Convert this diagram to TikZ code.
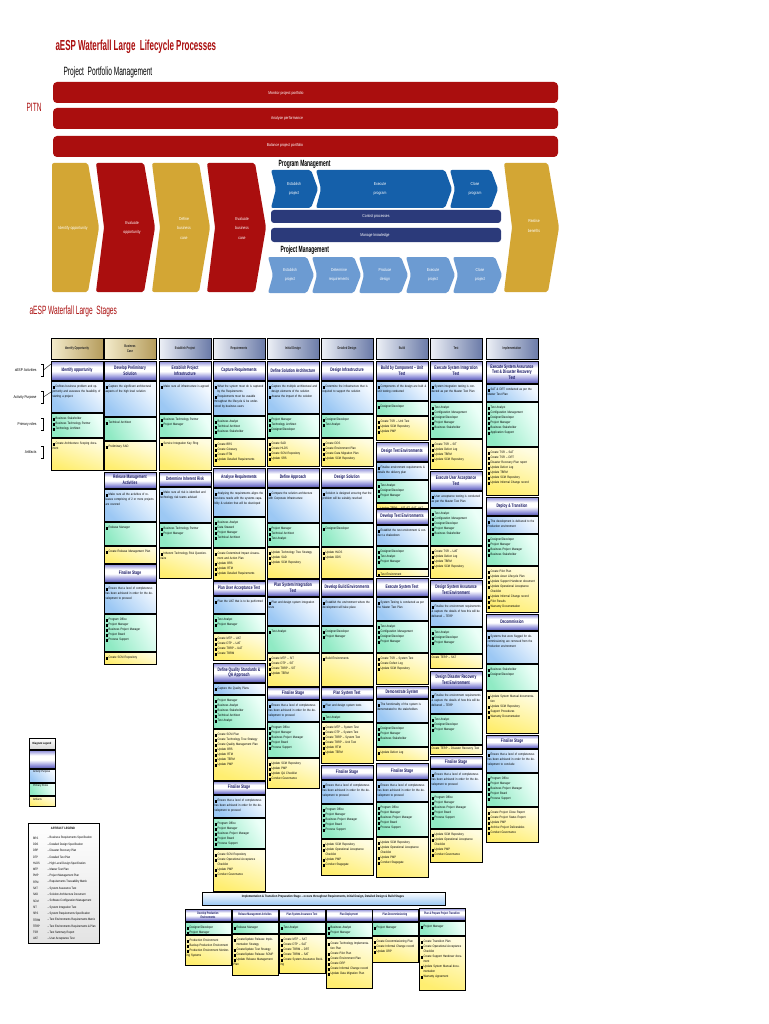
\documentclass[tikz,border=0pt]{standalone}
\usepackage{fontspec}
\setmainfont{Liberation Sans}
\newfontfamily\nar{Liberation Sans}[FakeStretch=0.8]
\newfontfamily\cnd{Liberation Sans}[FakeStretch=0.66]
\newfontfamily\cndx{Liberation Sans}[FakeStretch=0.55]
\definecolor{pred}{HTML}{AA0E0E}
\definecolor{pgold}{HTML}{D3A634}
\definecolor{pblue}{HTML}{1560AA}
\definecolor{pnavy}{HTML}{2B3A7A}
\definecolor{plblue}{HTML}{6C9BD2}
\definecolor{hnavy}{HTML}{12126E}
\definecolor{hlav}{HTML}{8C8CD8}
\definecolor{htext}{HTML}{101060}
\definecolor{pbl}{HTML}{9CC8F4}
\definecolor{pbr}{HTML}{F2F8FF}
\definecolor{rbl}{HTML}{90EAC4}
\definecolor{rbr}{HTML}{ECFFF8}
\definecolor{abl}{HTML}{FFEE70}
\definecolor{abr}{HTML}{FFFCE0}
\definecolor{sbl}{HTML}{EEF1F7}
\definecolor{sbr}{HTML}{6B7BA8}
\definecolor{sgl}{HTML}{F4ECCC}
\definecolor{sgr}{HTML}{B59C5C}
\pgfdeclareverticalshading{acthd}{100bp}{color(0bp)=(hnavy); color(14bp)=(hnavy); color(32bp)=(hlav); color(48bp)=(white); color(60bp)=(white); color(74bp)=(hlav); color(84bp)=(hnavy); color(100bp)=(hnavy)}
\newcommand\cbx{\raisebox{0.15pt}{\setlength\fboxsep{0pt}\setlength\fboxrule{0.3pt}\fbox{\rule{0pt}{1.5pt}\hspace{1.5pt}}}\hspace{1.1pt}}
\newcommand\itm[1]{\par\noindent\hangindent=3pt\hangafter=1\relax\cbx #1}
\newcommand\finp{\itm{Ensure that a level of completeness has been achieved in order for the development to proceed}}
\newcommand\finr{\itm{Program Office}\itm{Project Manager}\itm{Business Project Manager}\itm{Project Board}\itm{Process Support}}
\newcommand\hdfont{\cnd\bfseries\fontsize{5}{5.6}\selectfont}
\def\bw{52}
\def\bwt{49.5pt}
\newcommand\acth[5]{\path[acthdbox] (#2,#3) rectangle (#2+\bw,#4);
 \node[hdtxt] (#1h) at ({#2+\bw/2},{(#3+#4)/2}) {#5};}
\newcommand\actb[9]{%
 \path[pbox] (#2,#3) rectangle (#2+\bw,#4);
 \node[btxt] (#1p) at (#2,#3) {#7};
 \path[rbox] (#2,#4+1) rectangle (#2+\bw,#5);
 \node[btxt] (#1r) at (#2,#4+1) {#8};
 \path[abox] (#2,#5+1) rectangle (#2+\bw,#6);
 \node[btxt] (#1a) at (#2,#5+1) {#9};}
\newcommand\actrb[7]{%
 \path[rbox] (#2,#3) rectangle (#2+\bw,#4);
 \node[btxt] (#1r) at (#2,#3) {#6};
 \path[abox] (#2,#4+1) rectangle (#2+\bw,#5);
 \node[btxt] (#1a) at (#2,#4+1) {#7};}
\newcommand\chev[7]{\path[#1] (#2,#4) -- (#3-#7,#4) -- (#3,{(#4+#5)/2}) -- (#3-#7,#5) -- (#2,#5) -- (#2+#6,{(#4+#5)/2}) -- cycle;}
\begin{document}
\begin{tikzpicture}[x=1pt,y=-1pt,
 acthdbox/.style={shade,shading=acthd,draw=black,line width=0.7},
 pbox/.style={top color=pbr,bottom color=pbl,shading angle=-45,draw=black,line width=1},
 rbox/.style={top color=rbr,bottom color=rbl,shading angle=-60,draw=black,line width=1},
 abox/.style={top color=abr,bottom color=abl,shading angle=-20,draw=black,line width=1},
 btxt/.style={anchor=north west,text width=\bwt,inner xsep=1.3pt,inner ysep=1.5pt,align=left,font=\nar\fontsize{3.3}{5}\selectfont},
 hdtxt/.style={text=htext,align=center,inner sep=0pt,font=\hdfont},
 stg/.style={left color=sbl,right color=sbr,draw=black,line width=1},
 stgg/.style={left color=sgl,right color=sgr,draw=black,line width=1},
 stgtxt/.style={text=black!85,align=center,font=\cnd\bfseries\fontsize{3.8}{4.4}\selectfont},
 band/.style={fill=pred,rounded corners=4},
 bandtxt/.style={text=white,font=\nar\fontsize{4.2}{5}\selectfont},
 chtxt/.style={text=white,align=center,font=\nar\fontsize{4.3}{9.5}\selectfont},
 goldc/.style={fill=pgold,rounded corners=2},
 redc/.style={fill=pred,rounded corners=2},
 bluec/.style={fill=pblue,rounded corners=2},
 lbluec/.style={fill=plblue,rounded corners=2},
 navyb/.style={fill=pnavy,rounded corners=3},
 lbl/.style={anchor=east,font=\nar\fontsize{4}{5}\selectfont},
 brk/.style={line width=0.8},
 sect/.style={anchor=west,font=\cndx\fontsize{12}{14}\selectfont},
 legt/.style={anchor=west,font=\nar\fontsize{3}{4}\selectfont}]
\useasboundingbox (0,0) rectangle (768,1024);
\fill[white] (0,0) rectangle (768,1024);
% ---------- top ----------
\node[anchor=west,text=pred,font=\cndx\bfseries\fontsize{14.5}{16}\selectfont] (title) at (52,47) {aESP Waterfall Large\ \ Lifecycle Processes};
\node[sect] (ppm) at (60,72) {Project\ \ Portfolio Management};
\node[sect,text=pred] (pitn) at (23,107) {PITN};
\path[band] (53,82) rectangle (558,103);
\node[bandtxt] (b1) at (286,93) {Monitor project portfolio};
\path[band] (53,108) rectangle (558,129);
\node[bandtxt] (b2) at (287,118) {Analyse performance};
\path[band] (53,136) rectangle (558,157);
\node[bandtxt] (b3) at (285,145) {Balance project portfolio};
\chev{goldc}{52}{99}{163}{292}{0}{11}
\chev{redc}{96}{155}{163}{292}{8}{11}
\chev{goldc}{152}{210}{163}{292}{8}{11}
\chev{redc}{207}{266}{163}{292}{8}{11}
\chev{goldc}{504}{559}{163}{292}{8}{11}
\node[chtxt] (k1) at (73,228) {Identify opportunity};
\node[chtxt] (k2) at (132,228) {Evaluate\\opportunity};
\node[chtxt] (k3) at (184,228) {Define\\business\\case};
\node[chtxt] (k4) at (242,228) {Evaluate\\business\\case};
\node[chtxt] (k5) at (534,226) {Realise\\benefits};
\node[anchor=west,font=\cndx\bfseries\fontsize{9}{10}\selectfont] (pgm) at (275,164) {Program Management};
\chev{bluec}{271}{318}{170}{208}{5}{7}
\chev{bluec}{316}{452}{170}{208}{5}{7}
\chev{bluec}{450}{498}{170}{208}{5}{7}
\node[chtxt] (g1) at (294,189) {Establish\\project};
\node[chtxt] (g2) at (380,189) {Execute\\program};
\node[chtxt] (g3) at (475,189) {Close\\program};
\path[navyb] (271,210) rectangle (501,223);
\node[bandtxt] (n1) at (376,216.5) {Control processes};
\path[navyb] (271,228) rectangle (501,242);
\node[bandtxt] (n2) at (375,235) {Manage knowledge};
\node[anchor=west,font=\cndx\bfseries\fontsize{9}{10}\selectfont] (pjm) at (277,250) {Project Management};
\chev{lbluec}{268}{314}{257}{293}{5}{7}
\chev{lbluec}{312}{361}{257}{293}{5}{7}
\chev{lbluec}{359}{408}{257}{293}{5}{7}
\chev{lbluec}{406}{455}{257}{293}{5}{7}
\chev{lbluec}{453}{502}{257}{293}{5}{7}
\node[chtxt] (j1) at (290,275) {Establish\\project};
\node[chtxt] (j2) at (339,275) {Determine\\requirements};
\node[chtxt] (j3) at (385,275) {Produce\\design};
\node[chtxt] (j4) at (433,275) {Execute\\project};
\node[chtxt] (j5) at (480,275) {Close\\project};
\node[sect,text=pred] (stg) at (26,311) {aESP Waterfall Large\ \ Stages};
% ---------- stage headers ----------
\path[stgg] (51,338) rectangle (103,359); \node[stgtxt] (s1) at (77,348.5) {Identify Opportunity};
\path[stgg] (104,338) rectangle (156,359); \node[stgtxt] (s2) at (130,348.5) {Business\\Case};
\path[stg] (159,338) rectangle (211,359); \node[stgtxt] (s3) at (185,348.5) {Establish Project};
\path[stg] (213,338) rectangle (265,359); \node[stgtxt] (s4) at (239,348.5) {Requirements};
\path[stg] (267,338) rectangle (319,359); \node[stgtxt] (s5) at (293,348.5) {Initial Design};
\path[stg] (321,338) rectangle (373,359); \node[stgtxt] (s6) at (347,348.5) {Detailed Design};
\path[stg] (376,338) rectangle (428,359); \node[stgtxt] (s7) at (402,348.5) {Build};
\path[stg] (430,338) rectangle (482,359); \node[stgtxt] (s8) at (456,348.5) {Test};
\path[stg] (486,338) rectangle (538,359); \node[stgtxt] (s9) at (512,348.5) {Implementation};
% ---------- side labels ----------
\node[lbl] (l1) at (40,370) {aESP Activities};
\node[lbl] (l2) at (40,397) {Activity Purpose};
\node[lbl] (l3) at (40,424) {Primary roles};
\node[lbl] (l4) at (40,452) {Artifacts};
\foreach \yy in {370,397,424,452}{\draw[brk] (41,\yy-6) -- (43.5,\yy-6) -- (43.5,\yy+6) -- (41,\yy+6);}
\draw[line width=0.4] (43.5,370) -- (51,364);
\draw[line width=0.4] (43.5,397) -- (51,392);
% ---------- column 1 ----------
\acth{c1a}{51}{361}{380}{Identify opportunity}
\actb{c1a}{51}{381}{412}{437}{470}{\itm{Defines business problem and opportunity and assesses the feasibility of starting a project.}}{\itm{Business Stakeholder}\itm{Business Technology Partner}\itm{Technology Architect}}{\itm{Create Architecture Scoping document}}
% ---------- column 2 ----------
\acth{c2a}{104}{361}{380}{Develop Preliminary\\Solution}
\actb{c2a}{104}{381}{416}{440}{470}{\itm{Capture the significant architectural aspects of the high level solution}}{\itm{Technical Architect}}{\itm{Preliminary SAD}}
\acth{c2b}{104}{472}{488}{Release Management\\Activities}
\actb{c2b}{104}{489}{521}{545}{563}{\itm{Make sure all the activities of releases comprising of 2 or more projects are covered}}{\itm{Release Manager}}{\itm{Create Release Management Plan}}
\acth{c2c}{104}{564}{582}{Finalise Stage}
\actb{c2c}{104}{583}{613}{651}{664}{\finp}{\finr}{\itm{Create SCM Repository}}
% ---------- column 3 ----------
\acth{c3a}{159}{361}{380}{Establish Project\\Infrastructure}
\actb{c3a}{159}{381}{413}{437}{470}{\itm{Make sure all infrastructure is agreed}}{\itm{Business Technology Partner}\itm{Project Manager}}{\itm{Service Integration Key Ring}}
\acth{c3b}{159}{472}{486}{Determine Inherent Risk}
\actb{c3b}{159}{487}{522}{547}{578}{\itm{Make sure all risk is identified and technology risk teams advised}}{\itm{Business Technology Partner}\itm{Project Manager}}{\itm{Inherent Technology Risk Questionnaire}}
% ---------- column 4 ----------
\acth{c4a}{213}{361}{380}{Capture Requirements}
\actb{c4a}{213}{381}{415}{438}{466}{\itm{What the system must do is captured by the Requirements}\itm{Requirements must be useable throughout the lifecycle \& be understood by business users}}{\itm{Business Analyst}\itm{Technical Architect}\itm{Business Stakeholder}}{\itm{Create BRS}\itm{Create Glossary}\itm{Create RTM}\itm{Update Detailed Requirements}}
\acth{c4b}{213}{468}{487}{Analyse Requirements}
\actb{c4b}{213}{488}{516}{547}{580}{\itm{Analysing the requirements aligns the business needs with the systems capability \& solution that will be developed}}{\itm{Business Analyst}\itm{Data Steward}\itm{Project Manager}\itm{Technical Architect}}{\itm{Create Determined Impact Assessment and Action Plan}\itm{Update BRS}\itm{Update RTM}\itm{Update Detailed Requirements}}
\acth{c4c}{213}{581}{595}{Plan User Acceptance Test}
\actb{c4c}{213}{596}{613}{632}{660}{\itm{Plan the UAT that is to be performed}}{\itm{Test Analyst}\itm{Project Manager}}{\itm{Create MTP – UAT}\itm{Create DTP – UAT}\itm{Create TBRP – UAT}\itm{Create TBRM}}
\acth{c4d}{213}{663}{682}{Define Quality Standards \&\\QA Approach}
\actb{c4d}{213}{683}{694}{728}{780}{\itm{Capture the Quality Plans}}{\itm{Project Manager}\itm{Business Analyst}\itm{Business Stakeholder}\itm{Technical Architect}\itm{Test Analyst}}{\itm{Create SCM Plan}\itm{Create Technology Tree Strategy}\itm{Create Quality Management Plan}\itm{Update BRS}\itm{Update RTM}\itm{Update TERM}\itm{Update PMP}}
\acth{c4e}{213}{781}{794}{Finalise Stage}
\actb{c4e}{213}{795}{817}{848}{891}{\finp}{\finr}{\itm{Create SCM Repository}\itm{Create Operational Acceptance Checklist}\itm{Update PMP}\itm{Conduct Governance}}
% ---------- column 5 ----------
\acth{c5a}{267}{361}{380}{Define Solution Architecture}
\actb{c5a}{267}{381}{413}{437}{466}{\itm{Capture the multiple architectural and design elements of the solution}\itm{Assess the impact of the solution}}{\itm{Project Manager}\itm{Technology Architect}\itm{Designer/Developer}}{\itm{Create SAD}\itm{Create HLDS}\itm{Create SCM Repository}\itm{Update SRS}}
\acth{c5b}{267}{468}{487}{Define Approach}
\actb{c5b}{267}{488}{522}{546}{578}{\itm{Compare the solution architecture with Corporate Infrastructure}}{\itm{Project Manager}\itm{Technical Architect}\itm{Test Analyst}}{\itm{Update Technology Tree Strategy}\itm{Update SAD}\itm{Update SCM Repository}}
\acth{c5c}{267}{579}{596}{Plan System Integration\\Test}
\actb{c5c}{267}{597}{625}{652}{686}{\itm{Plan and design system integration tests}}{\itm{Test Analyst}}{\itm{Create MTP – SIT}\itm{Create DTP – SIT}\itm{Create TBRP – SIT}\itm{Update TERM}}
\acth{c5d}{267}{687}{699}{Finalise Stage}
\actb{c5d}{267}{700}{721}{757}{788}{\finp}{\finr}{\itm{Update SCM Repository}\itm{Update PMP}\itm{Update QA Checklist}\itm{Conduct Governance}}
% ---------- column 6 ----------
\acth{c6a}{321}{361}{380}{Design Infrastructure}
\actb{c6a}{321}{381}{413}{437}{466}{\itm{Determine the infrastructure that is required to support the solution}}{\itm{Designer/Developer}\itm{Test Analyst}}{\itm{Create DDS}\itm{Create Environment Plan}\itm{Create Data Migration Plan}\itm{Update SCM Repository}}
\acth{c6b}{321}{468}{487}{Design Solution}
\actb{c6b}{321}{488}{522}{546}{578}{\itm{Solution is designed ensuring that the problem will be suitably resolved}}{\itm{Designer/Developer}}{\itm{Update HLDS}\itm{Update DDS}}
\acth{c6c}{321}{579}{596}{Develop Build Environments}
\actb{c6c}{321}{597}{625}{652}{686}{\itm{Establish the environment where the development will take place}}{\itm{Designer/Developer}\itm{Project Manager}}{\itm{Build Environments}}
\acth{c6d}{321}{687}{699}{Plan System Test}
\actb{c6d}{321}{700}{711}{721}{763}{\itm{Plan and design system tests}}{\itm{Test Analyst}}{\itm{Create MTP – System Test}\itm{Create DTP – System Test}\itm{Create TBRP – System Test}\itm{Create TBRP – Unit Test}\itm{Update RTM}\itm{Update TERM}}
\acth{c6e}{321}{765}{779}{Finalise Stage}
\actb{c6e}{321}{780}{803}{838}{875}{\finp}{\finr}{\itm{Update SCM Repository}\itm{Update Operational Acceptance Checklist}\itm{Update PMP}\itm{Conduct Stagegate}}
% ---------- column 7 ----------
\acth{c7a}{376}{361}{380}{Build by Component – Unit\\Test}
\actb{c7a}{376}{381}{400}{415}{440}{\itm{Components of the design are built \& unit testing conducted}}{\itm{Designer/Developer}}{\itm{Create TSR – Unit Test}\itm{Update SCM Repository}\itm{Update PMP}}
\acth{c7b}{376}{442}{461}{Design Test Environments}
\actb{c7b}{376}{462}{479}{502}{508}{\itm{Finalise environment requirements \& details the delivery plan}}{\itm{Test Analyst}\itm{Designer/Developer}\itm{Project Manager}}{\itm{Update TERP – SIT, ST, SAT, UAT}}
\acth{c7c}{376}{509}{524}{Develop Test Environments}
\actb{c7c}{376}{525}{545}{568}{576}{\itm{Establish the test environment \& conduct a shakedown}}{\itm{Designer/Developer}\itm{Test Analyst}\itm{Project Manager}}{\itm{Test Environment}}
\acth{c7d}{376}{578}{596}{Execute System Test}
\actb{c7d}{376}{597}{620}{652}{684}{\itm{System Testing is conducted as per the Master Test Plan}}{\itm{Test Analyst}\itm{Configuration Management}\itm{Designer/Developer}\itm{Project Manager}}{\itm{Create TSR – System Test}\itm{Create Defect Log}\itm{Update SCM Repository}}
\acth{c7e}{376}{686}{698}{Demonstrate System}
\actb{c7e}{376}{699}{722}{746}{760}{\itm{The functionality of the system is demonstrated to the stakeholders}}{\itm{Designer/Developer}\itm{Project Manager}\itm{Business Stakeholder}}{\itm{Update Defect Log}}
\acth{c7f}{376}{763}{779}{Finalise Stage}
\actb{c7f}{376}{780}{801}{836}{877}{\finp}{\finr}{\itm{Update SCM Repository}\itm{Update Operational Acceptance Checklist}\itm{Update PMP}\itm{Conduct Stagegate}}
% ---------- column 8 ----------
\acth{c8a}{430}{361}{380}{Execute System Integration\\Test}
\actb{c8a}{430}{381}{401}{438}{469}{\itm{System integration testing is conducted as per the Master Test Plan}}{\itm{Test Analyst}\itm{Configuration Management}\itm{Designer/Developer}\itm{Project Manager}\itm{Business Stakeholder}}{\itm{Create TSR – SIT}\itm{Update Defect Log}\itm{Update TBRM}\itm{Update SCM Repository}}
\acth{c8b}{430}{471}{490}{Execute User Acceptance\\Test}
\actb{c8b}{430}{491}{507}{545}{578}{\itm{User acceptance testing is conducted as per the Master Test Plan}}{\itm{Test Analyst}\itm{Configuration Management}\itm{Designer/Developer}\itm{Project Manager}\itm{Business Stakeholder}}{\itm{Create TSR – UAT}\itm{Update Defect Log}\itm{Update TBRM}\itm{Update SCM Repository}}
\acth{c8c}{430}{580}{600}{Design System Assurance\\Test Environment}
\actb{c8c}{430}{601}{626}{653}{668}{\itm{Finalise the environment requirements \& capture the details of how this will be delivered – TERP}}{\itm{Test Analyst}\itm{Designer/Developer}\itm{Project Manager}}{Create TERP – SAT}
\acth{c8d}{430}{671}{689}{Design Disaster Recovery\\Test Environment}
\actb{c8d}{430}{690}{713}{744}{754}{\itm{Finalise the environment requirements \& capture the details of how this will be delivered – TERP}}{\itm{Test Analyst}\itm{Designer/Developer}\itm{Project Manager}}{Create TERP – Disaster Recovery Test}
\acth{c8e}{430}{756}{768}{Finalise Stage}
\actb{c8e}{430}{769}{791}{828}{862}{\finp}{\finr}{\itm{Update SCM Repository}\itm{Update Operational Acceptance Checklist}\itm{Update PMP}\itm{Conduct Governance}}
% ---------- column 9 ----------
\acth{c9a}{486}{361}{383}{Execute System Assurance\\Test \& Disaster Recovery\\Test}
\actb{c9a}{486}{384}{401}{446}{495}{\itm{SAT \& DRT conducted as per the Master Test Plan}}{\itm{Test Analyst}\itm{Configuration Management}\itm{Designer/Developer}\itm{Project Manager}\itm{Business Stakeholder}\itm{Application Support}}{\itm{Create TSR – SAT}\itm{Create TSR – DRT}\itm{Disaster Recovery Plan report}\itm{Update Defect Log}\itm{Update TBRM}\itm{Update SCM Repository}\itm{Update Informal Change record}}
\acth{c9b}{486}{497}{515}{Deploy \& Transition}
\actb{c9b}{486}{516}{533}{565}{612}{\itm{The development is delivered to the Production environment}}{\itm{Designer/Developer}\itm{Project Manager}\itm{Business Project Manager}\itm{Business Stakeholder}}{\itm{Create Pilot Plan}\itm{Update Asset Lifecycle Plan}\itm{Update Support Handover document}\itm{Update Operational Acceptance Checklist}\itm{Update Informal Change record}\itm{Pilot Results}\itm{Warranty Documentation}}
\acth{c9c}{486}{614}{630}{Decommission}
\actb{c9c}{486}{631}{663}{690}{733}{\itm{Systems that were flagged for decommissioning are removed from the Production environment}}{\itm{Business Stakeholder}\itm{Designer/Developer}}{\itm{Update System Manual documentation}\itm{Update SCM Repository}\itm{Support Procedures}\itm{Warranty Documentation}}
\acth{c9d}{486}{735}{748}{Finalise Stage}
\actb{c9d}{486}{749}{772}{806}{842}{\itm{Ensure that a level of completeness has been achieved in order for the development to conclude}}{\finr}{\itm{Create Project Close Report}\itm{Create Project Status Report}\itm{Update PMP}\itm{Archive Project Deliverables}\itm{Conduct Governance}}
% ---------- diagram legend ----------
\path[draw=black,line width=0.8,top color=white,bottom color=gray!30] (29,738) rectangle (55,749);
\node[font=\nar\bfseries\fontsize{3}{4}\selectfont] (dl0) at (42,743.5) {Diagram Legend};
\path[acthdbox] (29,750) rectangle (55,768);
\node[legt,text=white] (dl1) at (29.5,759) {aESP Activities};
\path[pbox] (29,769) rectangle (55,782);
\node[legt] (dl2) at (29.5,772) {Activity Purpose};
\path[rbox] (29,783) rectangle (55,795);
\node[legt] (dl3) at (29.5,786) {Primary Roles};
\path[abox] (29,796) rectangle (55,806);
\node[legt] (dl4) at (29.5,799) {Artifacts};
% ---------- artifact legend ----------
\path[draw=black,line width=0.8,top color=white,bottom color=gray!22] (28,823) rectangle (99,943);
\node[font=\nar\bfseries\fontsize{3.2}{4}\selectfont] (al) at (63,828.5) {ARTIFACT LEGEND};
\foreach \ab/\de [count=\i] in {BRS/Business Requirements Specification,DDS/Detailed Design Specification,DRP/Disaster Recovery Plan,DTP/Detailed Test Plan,HLDS/High Level Design Specification,MTP/Master Test Plan,PMP/Project Management Plan,RTM/Requirements Traceability Matrix,SAT/System Assurance Test,SAD/Solution Architecture Document,SCM/Software Configuration Management,SIT/System Integration Test,SRS/System Requirements Specification,TERM/Test Environments Requirements Matrix,TERP/Test Environments Requirements \& Plan,TSR/Test Summary Report,UAT/User Acceptance Test}{
 \node[legt,font=\nar\fontsize{3.2}{4}\selectfont] (la\i) at (29.5,{831.7+6.3*\i}) {\ab};
 \node[legt,font=\nar\fontsize{3.2}{4}\selectfont] (ld\i) at (44,{831.7+6.3*\i}) {– \de};}
% ---------- implementation & transition preparation ----------
\path[draw=black,line width=1,top color=white,bottom color=pbl] (202,892) rectangle (445,905);
\node[font=\nar\bfseries\fontsize{3.3}{4}\selectfont] (itp) at (323,896.5) {Implementation \& Transition Preparation Stage – occurs throughout Requirements, Initial Design, Detailed Design \& Build Stages};
\def\bw{46}
\def\bwt{43.5pt}
\renewcommand\hdfont{\cnd\bfseries\fontsize{3.4}{3.8}\selectfont}
\acth{da}{185}{909}{921}{Develop Production\\Environments}
\actrb{da}{185}{922}{934}{965}{\itm{Designer/Developer}\itm{Project Manager}}{\itm{Production Environment}\itm{Backup Production Environment}\itm{Production Environment Monitoring Systems}}
\acth{db}{232}{909}{921}{Release Management Activities}
\actrb{db}{232}{922}{933}{975}{\itm{Release Manager}}{\itm{Create/Update Release Implementation Strategy}\itm{Create/Update Test Strategy}\itm{Create/Update Release SCMP}\itm{Update Release Management Plan}}
\acth{dc}{279}{909}{921}{Plan System Assurance Test}
\actrb{dc}{279}{922}{933}{973}{\itm{Test Analyst}}{\itm{Create MTP – SAT}\itm{Create DTP – SAT}\itm{Create TBRM – DRT}\itm{Create TBRM – SAT}\itm{Create System Assurance Booking}}
\acth{dd}{326}{909}{921}{Plan Deployment}
\actrb{dd}{326}{922}{937}{988}{\itm{Business Analyst}\itm{Project Manager}}{\itm{Create Technology Implementation Plan}\itm{Create Pilot Plan}\itm{Create Environment Plan}\itm{Create DRP}\itm{Create Informal Change record}\itm{Update Data Migration Plan}}
\acth{de}{372}{909}{921}{Plan Decommissioning}
\actrb{de}{372}{922}{935}{962}{\itm{Project Manager}}{\itm{Create Decommissioning Plan}\itm{Create Informal Change record}\itm{Update DRP}}
\acth{df}{419}{908}{920}{Plan \& Prepare Project Transition}
\actrb{df}{419}{921}{935}{990}{\itm{Project Manager}}{\itm{Create Transition Plan}\itm{Create Operational Acceptance Checklist}\itm{Create Support Handover document}\itm{Update System Manual documentation}\itm{Warranty Agreement}}
\end{tikzpicture}
\end{document}
